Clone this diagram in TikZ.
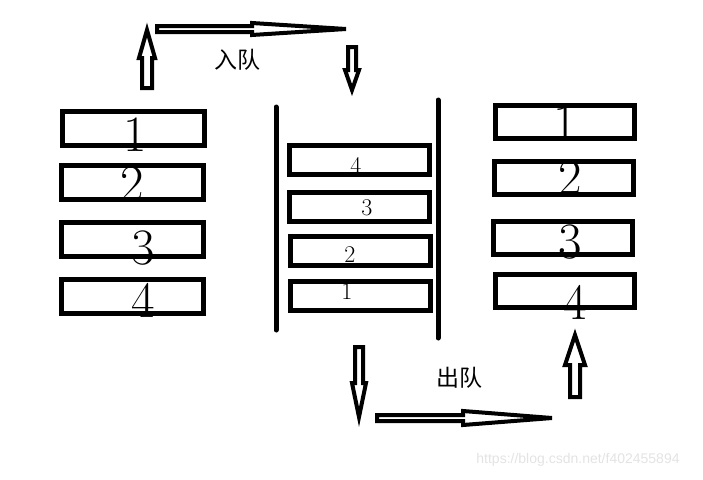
\documentclass[tikz,border=0pt]{standalone}
\usepackage{fontspec}
\newfontfamily\cjk{Noto Sans CJK SC}
\newfontfamily\wmfont{Liberation Sans}
\usetikzlibrary{positioning}

\begin{document}
\begin{tikzpicture}[x=1pt, y=-1pt,
    lbox/.style={rectangle, draw=black, line width=5pt, inner sep=0pt,
                 minimum width=142pt, minimum height=34pt},
    qbox/.style={rectangle, draw=black, line width=5pt, inner sep=0pt,
                 minimum width=140pt, minimum height=29pt},
    rbox/.style={rectangle, draw=black, line width=5pt, inner sep=0pt,
                 minimum width=139pt, minimum height=33pt},
    bignum/.style={inner sep=0pt, font=\fontsize{51}{51}\selectfont},
    qnum/.style={inner sep=0pt, font=\fontsize{24}{24}\selectfont},
    hollow/.style={draw=black, fill=white, line width=4pt},
    wall/.style={line width=5pt, line cap=round},
    lbl/.style={inner sep=0pt, font=\cjk\fontsize{23}{23}\selectfont},
    wm/.style={inner sep=0pt, text=black!11, font=\wmfont\fontsize{14}{14}\selectfont}
]
\useasboundingbox (0,0) rectangle (703,479);

% Left column (before)
\node[lbox] (l1) at (133,128) {};
\node[lbox] (l2) at (132.5,182) {};
\node[lbox] (l3) at (132.5,239) {};
\node[lbox] (l4) at (132.5,296) {};
\node[bignum] (nl1) at (135,135) {1};
\node[bignum] (nl2) at (132,184) {2};
\node[bignum] (nl3) at (143,248) {3};
\node[bignum] (nl4) at (143,300) {4};

% Queue
\draw[wall] (276,107) -- (276,330);
\draw[wall] (438,100) -- (438,338);
\node[qbox] (q4) at (359.5,160) {};
\node[qbox] (q3) at (359.5,206.5) {};
\node[qbox] (q2) at (360.5,251) {};
\node[qbox] (q1) at (360.5,296) {};
\node[qnum] (nq4) at (356,165) {4};
\node[qnum] (nq3) at (367,208) {3};
\node[qnum] (nq2) at (350,255) {2};
\node[qnum] (nq1) at (347,292) {1};

% Right column (after)
\node[rbox] (r1) at (565,122) {};
\node[rbox] (r2) at (564,178) {};
\node[rbox] (r3) at (563,238) {};
\node[rbox] (r4) at (565,291) {};
\node[bignum] (nr1) at (565,123) {1};
\node[bignum] (nr2) at (570,178) {2};
\node[bignum] (nr3) at (570,242) {3};
\node[bignum] (nr4) at (575,302) {4};

% Enqueue arrows
\draw[hollow] (142,88) -- (142,58) -- (139,58) -- (147,30) -- (155,58) -- (152,58) -- (152,88) -- cycle;
\draw[hollow] (157,26) -- (252,26) -- (252,23) -- (346,29) -- (252,35) -- (252,32) -- (157,32) -- cycle;
\draw[hollow] (348,47) -- (356,47) -- (356,70) -- (359,70) -- (352,90) -- (345,70) -- (348,70) -- cycle;
\node[lbl] (enq) at (237,60) {入队};

% Dequeue arrows
\draw[hollow] (355,347) -- (363,347) -- (363,383) -- (366,383) -- (359,417) -- (352,383) -- (355,383) -- cycle;
\draw[hollow] (377,415) -- (463,415) -- (463,411) -- (552,418) -- (463,425) -- (463,421) -- (377,421) -- cycle;
\draw[hollow] (570,397) -- (570,365) -- (565,365) -- (575,335) -- (585,365) -- (580,365) -- (580,397) -- cycle;
\node[lbl] (deq) at (459,378) {出队};

\node[wm] (mark) at (578,460) {https://blog.csdn.net/f402455894};

\end{tikzpicture}
\end{document}
